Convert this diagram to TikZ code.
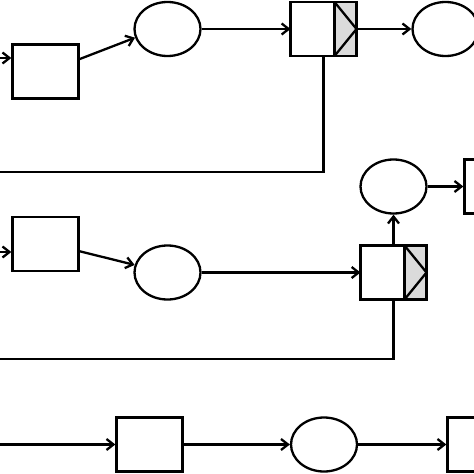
\documentclass[tikz,border=0pt]{standalone}
\usepackage{tikz}
\usetikzlibrary{shapes.geometric,positioning,calc,arrows.meta}

\tikzset{
    block/.style={draw, rectangle, minimum width=66pt, minimum height=54pt, inner sep=0pt},
    oval/.style={draw, ellipse, minimum width=66pt, minimum height=54pt, inner sep=0pt},
    gate/.style={block, outer sep=0pt},
    panel/.style={fill=gray!28},
    arr/.style={-{Straight Barb[length=7pt,width=11pt]}},
}

\begin{document}
\begin{tikzpicture}[x=1pt, y=-1pt, line width=2.3pt]
    \useasboundingbox (0,0) rectangle (474,474);
    \clip (0,0) rectangle (474,474);

    % Top row
    \node [block] (b1) at (45.5,71.5) {};
    \node [oval] (e1) at (167.5,29) {};
    \node [gate] (g1) at (323.5,29) {};
    \node [oval] (e2) at (445.5,29) {};

    % Middle row
    \node [oval] (e3) at (393.5,186.5) {};
    \node [block] (b2) at (497.5,186.5) {};
    \node [block] (b3) at (45.5,244) {};
    \node [oval] (e4) at (167.5,272.5) {};
    \node [gate] (g2) at (393.5,272.5) {};

    % Bottom row
    \node [block] (b4) at (149.5,444.5) {};
    \node [oval] (e5) at (324,444.5) {};
    \node [block] (b5) at (480.5,444.5) {};

    % Side panels
    \foreach \g in {g1,g2} {
        \fill [panel] ([xshift=-22pt]\g.north east) rectangle (\g.south east);
        \draw ([xshift=-22pt]\g.north east) -- ([xshift=-22pt]\g.south east);
        \draw ([xshift=-22pt]\g.north east) -- (\g.east) -- ([xshift=-22pt]\g.south east);
        \draw (\g.north west) rectangle (\g.south east);
    }

    % Loose ends
    \coordinate (in1) at (-10,58);
    \coordinate (in2) at (-10,252);
    \coordinate (in3) at (-10,444.5);
    \coordinate (fb1) at (-10,172);
    \coordinate (fb2) at (-10,359);

    % Top flow
    \draw [arr] (in1) -- (in1 -| b1.west);
    \draw [arr] (b1.20) -- (e1.195);
    \draw [arr] (e1) -- (g1);
    \draw [arr] (g1) -- (e2);
    \draw (g1.south) |- (fb1);

    % Middle flow
    \draw [arr] (in2) -- (in2 -| b3.west);
    \draw [arr] (b3.-12) -- (e4.167);
    \draw [arr] (e4) -- (g2);
    \draw [arr] (g2) -- (e3);
    \draw [arr] (e3) -- (b2);
    \draw (g2.south) |- (fb2);

    % Bottom flow
    \draw [arr] (in3) -- (b4);
    \draw [arr] (b4) -- (e5);
    \draw [arr] (e5) -- (b5);
\end{tikzpicture}
\end{document}
